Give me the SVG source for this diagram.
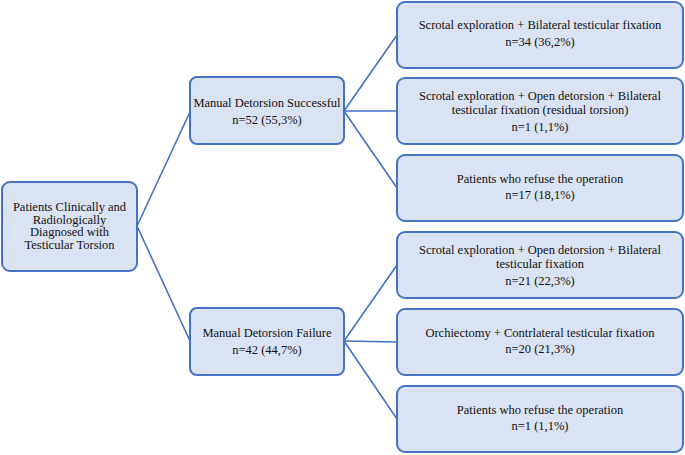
<svg xmlns="http://www.w3.org/2000/svg" width="685" height="455" viewBox="0 0 685 455">
<style>
.b{fill:#dae3f3;stroke:#4472c4;stroke-width:2}
.t{font-family:"Liberation Serif",serif;font-size:12.5px;fill:#111;text-anchor:middle}
.c line{stroke:#4472c4;stroke-width:1.6}
</style>
<rect width="685" height="455" fill="#fff"/>
<g class="c" id="connectors">
<line x1="137" y1="226" x2="190" y2="112"/>
<line x1="137" y1="226" x2="190" y2="341"/>
<line x1="344" y1="111" x2="397" y2="35"/>
<line x1="344" y1="111" x2="397" y2="111"/>
<line x1="344" y1="111" x2="397" y2="188"/>
<line x1="344" y1="341" x2="397" y2="265"/>
<line x1="344" y1="341" x2="397" y2="342"/>
<line x1="344" y1="341" x2="397" y2="419"/>
</g>
<g id="root"><rect class="b" x="2" y="182" width="135" height="89" rx="8"/>
<text class="t" x="69.5" y="211">Patients Clinically and</text><text class="t" x="69.5" y="223.5">Radiologically</text><text class="t" x="69.5" y="236">Diagnosed with</text><text class="t" x="69.5" y="248.5">Testicular Torsion</text></g>
<g id="success"><rect class="b" x="190" y="77" width="154" height="67" rx="7"/>
<text class="t" x="267" y="107">Manual Detorsion Successful</text><text class="t" x="267" y="124">n=52 (55,3%)</text></g>
<g id="failure"><rect class="b" x="190" y="308" width="154" height="67" rx="7"/>
<text class="t" x="267" y="337">Manual Detorsion Failure</text><text class="t" x="267" y="354">n=42 (44,7%)</text></g>
<g id="r1"><rect class="b" x="397" y="2" width="286" height="66" rx="8"/>
<text class="t" x="540" y="29">Scrotal exploration + Bilateral testicular fixation</text><text class="t" x="540" y="46">n=34 (36,2%)</text></g>
<g id="r2"><rect class="b" x="397" y="78" width="286" height="66" rx="8"/>
<text class="t" x="540" y="100">Scrotal exploration + Open detorsion + Bilateral</text><text class="t" x="540" y="114">testicular fixation (residual torsion)</text><text class="t" x="540" y="131">n=1 (1,1%)</text></g>
<g id="r3"><rect class="b" x="397" y="155" width="286" height="66" rx="8"/>
<text class="t" x="540" y="183">Patients who refuse the operation</text><text class="t" x="540" y="199">n=17 (18,1%)</text></g>
<g id="r4"><rect class="b" x="397" y="232" width="286" height="66" rx="8"/>
<text class="t" x="540" y="254">Scrotal exploration + Open detorsion + Bilateral</text><text class="t" x="540" y="268">testicular fixation</text><text class="t" x="540" y="285">n=21 (22,3%)</text></g>
<g id="r5"><rect class="b" x="397" y="309" width="286" height="66" rx="8"/>
<text class="t" x="540" y="337">Orchiectomy + Contrlateral testicular fixation</text><text class="t" x="540" y="353">n=20 (21,3%)</text></g>
<g id="r6"><rect class="b" x="397" y="386" width="286" height="66" rx="8"/>
<text class="t" x="540" y="414">Patients who refuse the operation</text><text class="t" x="540" y="430">n=1 (1,1%)</text></g>
</svg>
